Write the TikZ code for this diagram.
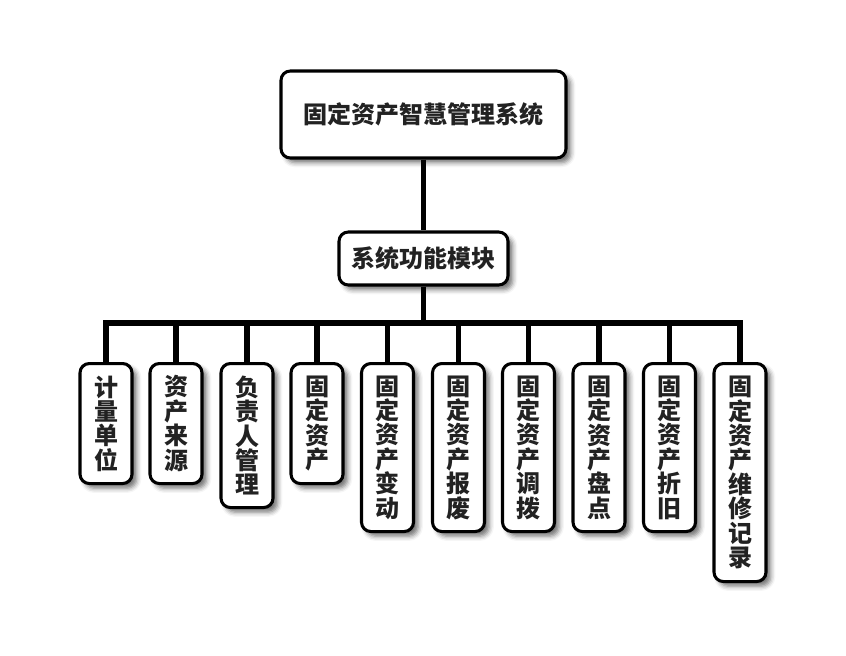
\documentclass[tikz,border=0pt]{standalone}
\usepackage{fontspec}
\setmainfont{Noto Sans CJK SC}
\usetikzlibrary{shadows.blur,backgrounds}
\definecolor{txt}{HTML}{222222}
\tikzset{
  box/.style={draw=black, fill=white, line width=2.3pt, rounded corners=7pt,
    text=txt, font=\bfseries\fontsize{18}{18.3}\selectfont, align=center,
    blur shadow={shadow xshift=3.5pt, shadow yshift=-3.5pt, shadow blur radius=3.5pt, shadow opacity=55}},
  leaf/.style={box, anchor=north, minimum width=39pt, inner xsep=0pt, inner ysep=0pt},
  conn/.style={line width=3.8pt, draw=black}
}
\begin{document}
\begin{tikzpicture}[x=0.75pt,y=-0.75pt]
\useasboundingbox (0,0) rectangle (846,656);
\node[box, minimum width=213.75pt, minimum height=65.25pt] (top) at (423.5,114.5) {固定资产智慧管理系统};
\node[box, minimum width=126.75pt, minimum height=39.75pt] (mid) at (423.5,258.5) {系统功能模块};
\node[leaf, minimum height=90pt] (l1) at (106,362) {计\\量\\单\\位};
\node[leaf, minimum height=90pt] (l2) at (176,362) {资\\产\\来\\源};
\node[leaf, minimum height=108pt] (l3) at (247,362) {负\\责\\人\\管\\理};
\node[leaf, minimum height=90pt] (l4) at (317,362) {固\\定\\资\\产};
\node[leaf, minimum height=126pt] (l5) at (387.5,362) {固\\定\\资\\产\\变\\动};
\node[leaf, minimum height=126pt] (l6) at (458.5,362) {固\\定\\资\\产\\报\\废};
\node[leaf, minimum height=126pt] (l7) at (528.5,362) {固\\定\\资\\产\\调\\拨};
\node[leaf, minimum height=126pt] (l8) at (599,362) {固\\定\\资\\产\\盘\\点};
\node[leaf, minimum height=126pt] (l9) at (669.5,362) {固\\定\\资\\产\\折\\旧};
\node[leaf, minimum height=163.5pt] (l10) at (740,362) {固\\定\\资\\产\\维\\修\\记\\录};
\coordinate (j) at (423.5,323);
\begin{pgfonlayer}{background}
\draw[conn] (top.south) -- (mid.north);
\draw[conn] (mid.south) -- (j);
\draw[conn, line join=miter] (l1.north) |- (j) -| (l10.north);
\foreach \i in {2,...,9} \draw[conn] (j -| l\i.north) -- (l\i.north);
\end{pgfonlayer}
\end{tikzpicture}
\end{document}
